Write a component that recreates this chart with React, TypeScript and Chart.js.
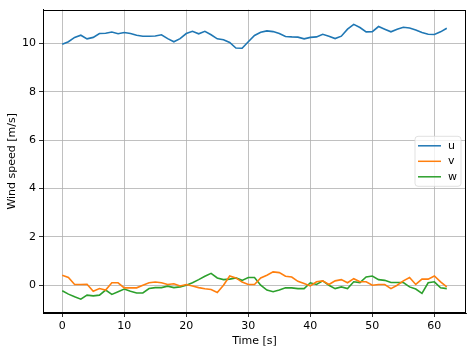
import React, { useEffect, useRef } from "react";
import { Chart, registerables } from "chart.js";

Chart.register(...registerables);

const times = [
  0, 1, 2, 3, 4, 5, 6, 7, 8, 9, 10, 11, 12, 13, 14, 15, 16, 17, 18, 19, 20,
  21, 22, 23, 24, 25, 26, 27, 28, 29, 30, 31, 32, 33, 34, 35, 36, 37, 38, 39,
  40, 41, 42, 43, 44, 45, 46, 47, 48, 49, 50, 51, 52, 53, 54, 55, 56, 57, 58,
  59, 60, 61, 62,
];

const uValues = [
  9.97, 10.07, 10.25, 10.34, 10.19, 10.25, 10.41, 10.42, 10.47, 10.4, 10.45,
  10.41, 10.34, 10.3, 10.3, 10.31, 10.36, 10.2, 10.07, 10.2, 10.41, 10.5,
  10.4, 10.5, 10.36, 10.19, 10.15, 10.04, 9.81, 9.8, 10.07, 10.33, 10.46,
  10.52, 10.49, 10.41, 10.29, 10.27, 10.26, 10.19, 10.25, 10.27, 10.38, 10.3,
  10.2, 10.3, 10.59, 10.79, 10.66, 10.48, 10.49, 10.7, 10.59, 10.48, 10.59,
  10.67, 10.64, 10.56, 10.45, 10.38, 10.37, 10.48, 10.63,
];

const vValues = [
  0.41, 0.32, 0.03, 0.03, 0.04, -0.25, -0.14, -0.2, 0.1, 0.1, -0.11, -0.11,
  -0.11, 0.0, 0.1, 0.13, 0.1, 0.03, 0.06, -0.03, 0.03, -0.03, -0.1, -0.15,
  -0.18, -0.3, 0.0, 0.38, 0.3, 0.13, 0.03, 0.03, 0.3, 0.41, 0.55, 0.52, 0.37,
  0.34, 0.16, 0.07, -0.03, 0.14, 0.18, 0.03, 0.18, 0.23, 0.1, 0.27, 0.14,
  0.14, 0.0, 0.03, 0.03, -0.14, 0.0, 0.18, 0.32, 0.03, 0.25, 0.25, 0.38,
  0.14, -0.07,
];

const wValues = [
  -0.23, -0.37, -0.48, -0.58, -0.41, -0.44, -0.41, -0.2, -0.38, -0.27, -0.16,
  -0.25, -0.32, -0.32, -0.14, -0.1, -0.1, -0.04, -0.1, -0.07, 0.0, 0.1, 0.23,
  0.37, 0.49, 0.3, 0.23, 0.25, 0.3, 0.2, 0.32, 0.32, 0.0, -0.2, -0.27, -0.2,
  -0.11, -0.11, -0.14, -0.14, 0.1, 0.03, 0.18, 0.0, -0.14, -0.07, -0.14, 0.14,
  0.11, 0.34, 0.38, 0.23, 0.2, 0.11, 0.11, 0.11, -0.07, -0.16, -0.34, 0.1,
  0.14, -0.11, -0.14,
];

const seriesNames = ["u", "v", "w"];
const seriesColors = ["#1f77b4", "#ff7f0e", "#2ca02c"];
const xTicks = [0, 10, 20, 30, 40, 50, 60];
const yTicks = [0, 2, 4, 6, 8, 10];
const xLabel = "Time [s]";
const yLabel = "Wind speed [m/s]";

const FONT = "'DejaVu Sans', sans-serif";

const framePlugin = {
  id: "frameAndLegend",
  afterDraw(chart: any) {
    const { ctx, chartArea: a } = chart;
    ctx.save();
    ctx.strokeStyle = "#000";
    ctx.lineWidth = 1;
    ctx.strokeRect(
      Math.round(a.left) + 0.5,
      Math.round(a.top) + 0.5,
      Math.round(a.right - a.left) - 1,
      Math.round(a.bottom - a.top) - 1
    );

    // matplotlib-like legend, center right
    const boxW = 46;
    const boxH = 50;
    const bx = a.right - 5 - boxW;
    const by = (a.top + a.bottom) / 2 - boxH / 2;
    ctx.globalAlpha = 0.8;
    ctx.fillStyle = "#fff";
    ctx.beginPath();
    const r = 3;
    ctx.moveTo(bx + r, by);
    ctx.lineTo(bx + boxW - r, by);
    ctx.quadraticCurveTo(bx + boxW, by, bx + boxW, by + r);
    ctx.lineTo(bx + boxW, by + boxH - r);
    ctx.quadraticCurveTo(bx + boxW, by + boxH, bx + boxW - r, by + boxH);
    ctx.lineTo(bx + r, by + boxH);
    ctx.quadraticCurveTo(bx, by + boxH, bx, by + boxH - r);
    ctx.lineTo(bx, by + r);
    ctx.quadraticCurveTo(bx, by, bx + r, by);
    ctx.closePath();
    ctx.fill();
    ctx.strokeStyle = "#d9d9d9";
    ctx.lineWidth = 1;
    ctx.stroke();
    ctx.globalAlpha = 1;

    ctx.font = "11px " + FONT;
    ctx.textBaseline = "middle";
    ctx.textAlign = "left";
    seriesNames.forEach((name, i) => {
      const yy = by + 9.5 + i * 15.5;
      ctx.strokeStyle = seriesColors[i];
      ctx.lineWidth = 1.5;
      ctx.beginPath();
      ctx.moveTo(bx + 3, yy);
      ctx.lineTo(bx + 26, yy);
      ctx.stroke();
      ctx.fillStyle = "#000";
      ctx.fillText(name, bx + 33, yy);
    });
    ctx.restore();
  },
};

export default function App() {
  const canvasRef = useRef<HTMLCanvasElement | null>(null);

  useEffect(() => {
    const canvas = canvasRef.current;
    if (!canvas) return;
    const allSeries = [uValues, vValues, wValues];
    const chart = new Chart(canvas, {
      type: "line",
      data: {
        datasets: allSeries.map((vals, i) => ({
          label: seriesNames[i],
          data: times.map((t, j) => ({ x: t, y: vals[j] })),
          borderColor: seriesColors[i],
          backgroundColor: seriesColors[i],
          borderWidth: 1.6,
          pointRadius: 0,
          tension: 0,
          fill: false,
        })),
      },
      options: {
        animation: false,
        responsive: false,
        maintainAspectRatio: false,
        layout: { padding: { top: 7, right: 8, left: 0, bottom: 0 } },
        plugins: {
          legend: { display: false },
          tooltip: { enabled: false },
        },
        scales: {
          x: {
            type: "linear",
            min: -3.1,
            max: 65.1,
            afterBuildTicks: (scale: any) => {
              scale.ticks = xTicks.map((v) => ({ value: v }));
            },
            afterFit: (scale: any) => {
              scale.height = 40;
            },
            grid: {
              color: "#b0b0b0",
              lineWidth: 0.8,
              tickColor: "#000",
              tickLength: 4,
              drawTicks: true,
            },
            border: { display: true, color: "#000", width: 1 },
            ticks: {
              color: "#000",
              font: { family: FONT, size: 11 },
              padding: 3,
              maxRotation: 0,
              callback: (v: any) => String(v),
            },
            title: {
              display: true,
              text: xLabel,
              color: "#000",
              font: { family: FONT, size: 11 },
              padding: { top: 0, bottom: 5 },
            },
          },
          y: {
            type: "linear",
            min: -1.15,
            max: 11.4,
            afterBuildTicks: (scale: any) => {
              scale.ticks = yTicks.map((v) => ({ value: v }));
            },
            afterFit: (scale: any) => {
              scale.width = 43;
            },
            grid: {
              color: "#b0b0b0",
              lineWidth: 0.8,
              tickColor: "#000",
              tickLength: 4,
              drawTicks: true,
            },
            border: { display: true, color: "#000", width: 1 },
            ticks: {
              color: "#000",
              font: { family: FONT, size: 11 },
              padding: 3,
              callback: (v: any) => String(v),
            },
            title: {
              display: true,
              text: yLabel,
              color: "#000",
              font: { family: FONT, size: 11 },
              padding: { top: 6, bottom: 0 },
            },
          },
        },
      },
      plugins: [framePlugin],
    });
    return () => chart.destroy();
  }, []);

  return (
    <div style={{ position: "fixed", left: 0, top: 0, width: 474, height: 353, background: "#fff" }}>
      <canvas ref={canvasRef} width={474} height={353} style={{ width: 474, height: 353 }} />
    </div>
  );
}
